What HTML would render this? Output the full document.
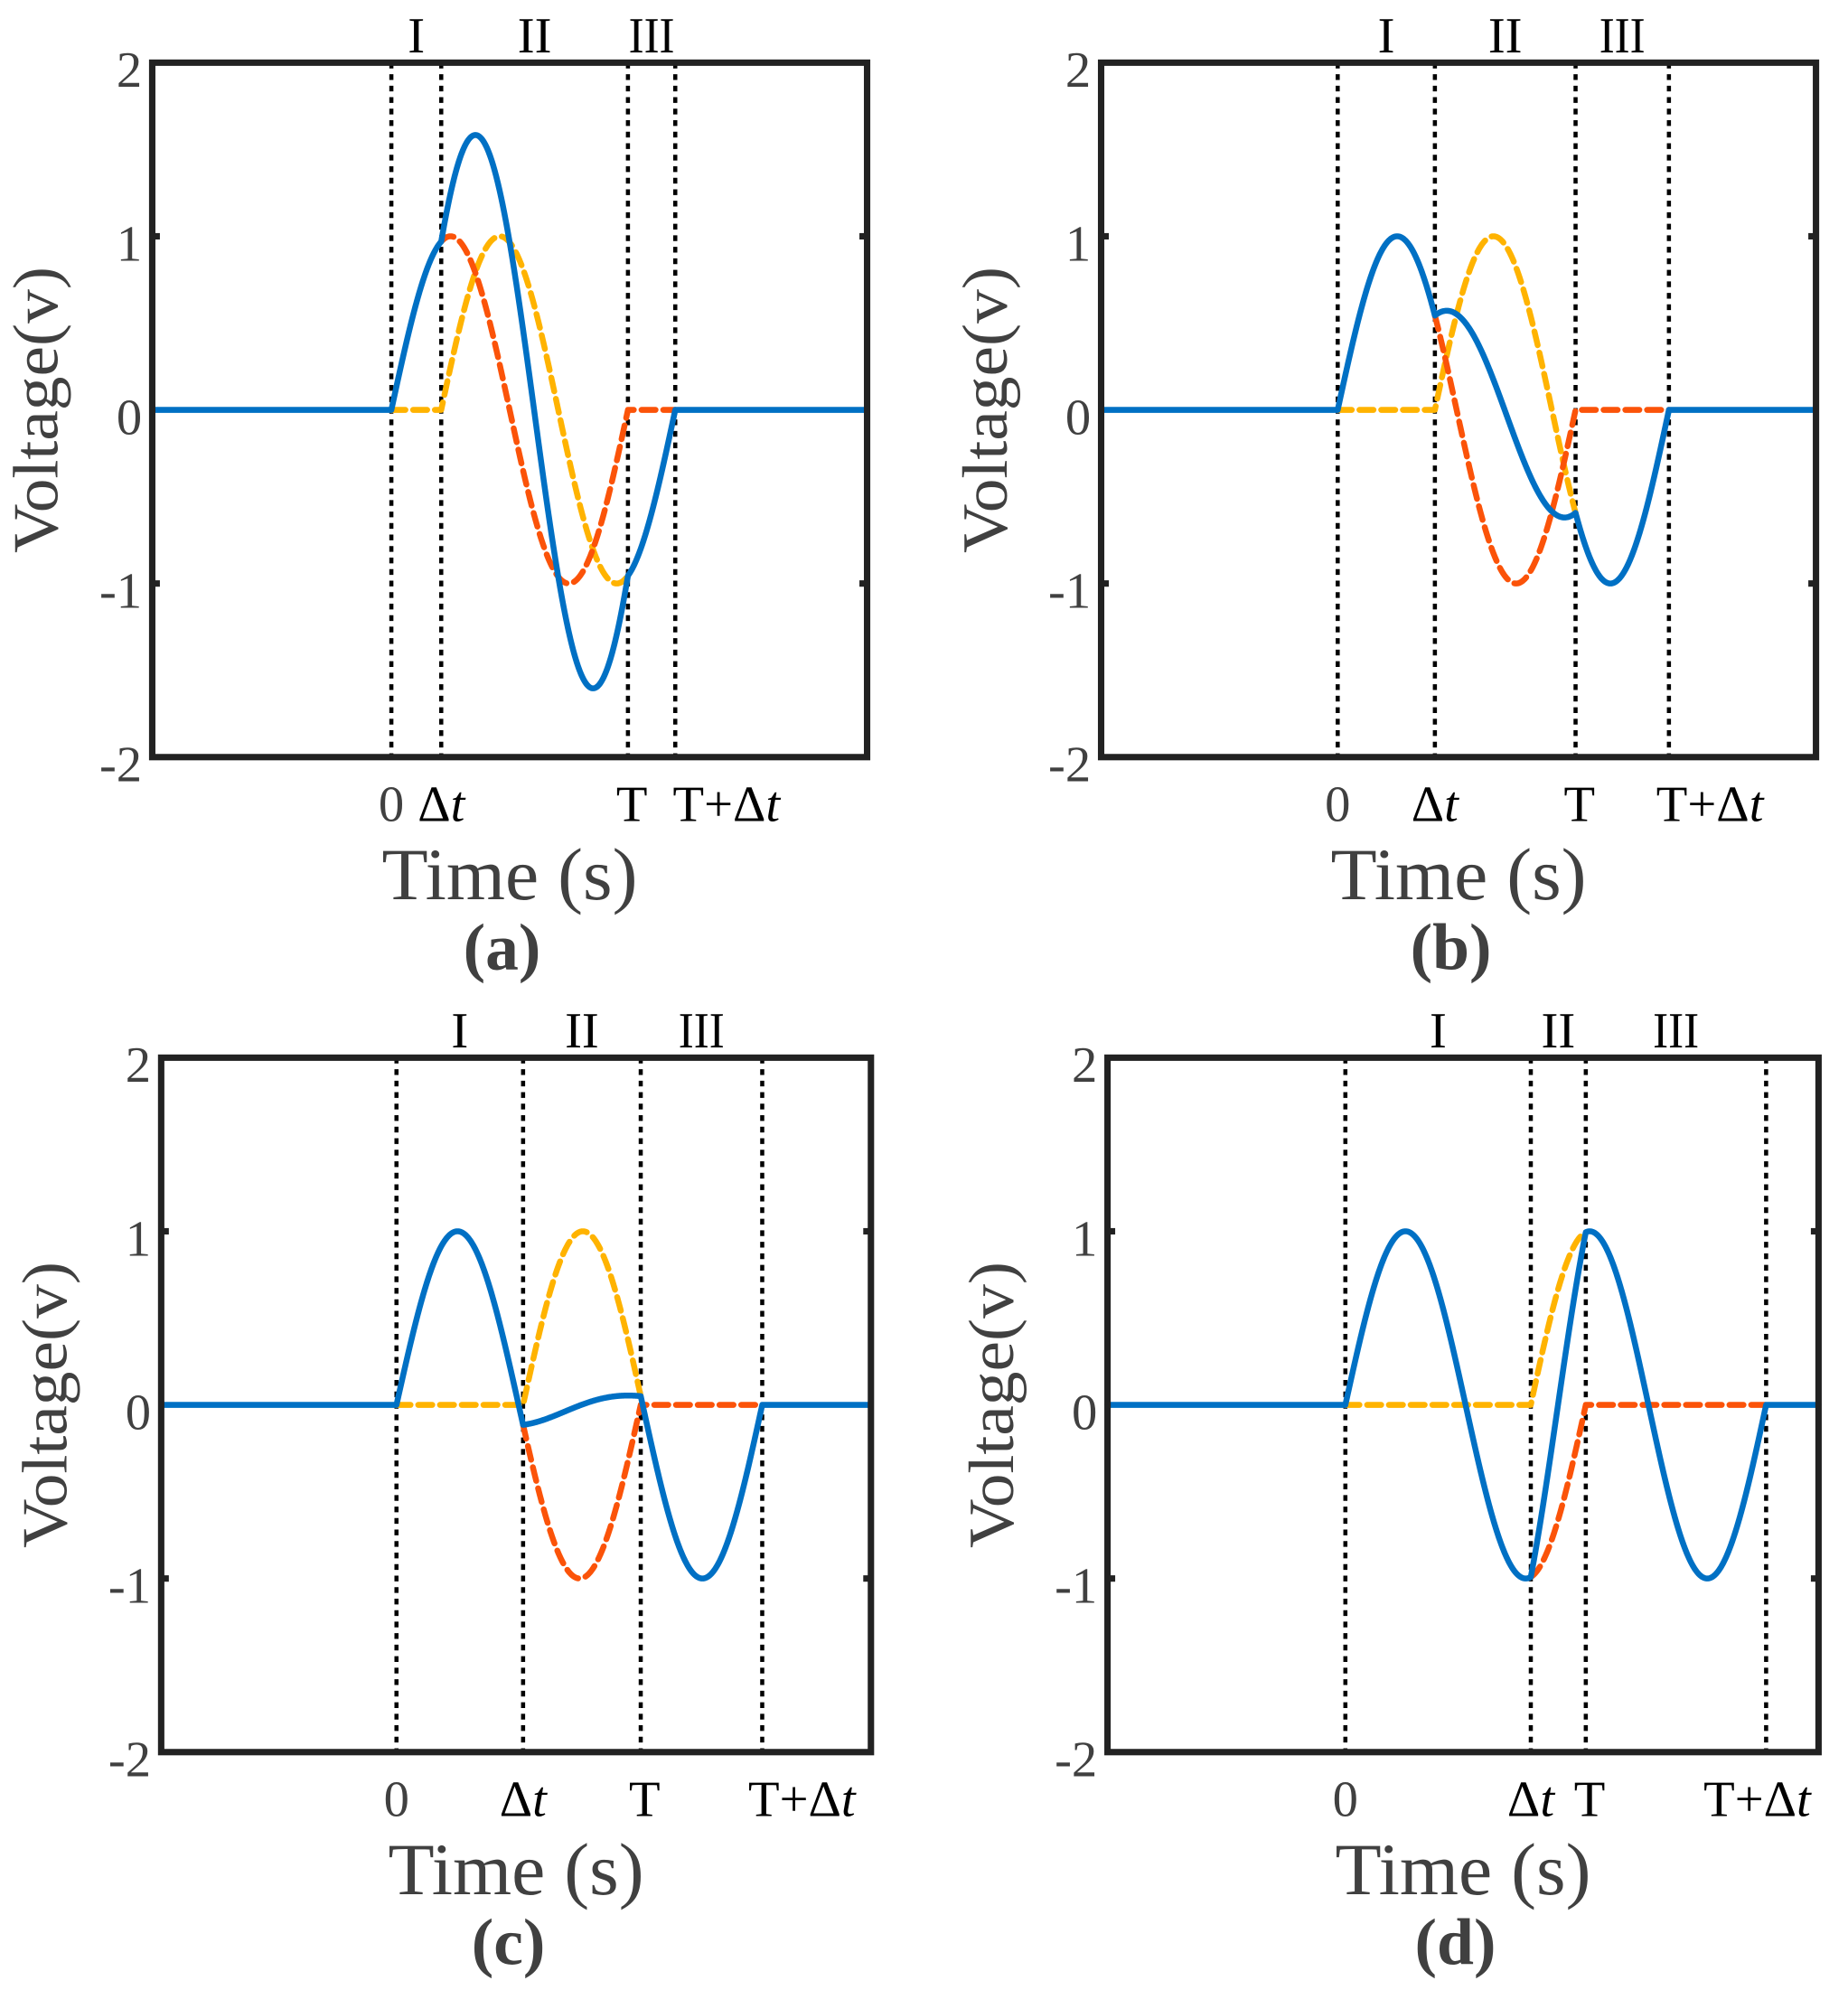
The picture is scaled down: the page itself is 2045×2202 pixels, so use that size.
<!DOCTYPE html>
<html><head><meta charset="utf-8">
<style>
html,body{margin:0;padding:0;background:#fff;}
svg{display:block;}
text{font-family:"Liberation Serif",serif;}
</style></head>
<body>
<svg id="s" xmlns="http://www.w3.org/2000/svg" width="2045" height="2202" viewBox="0 0 1445 1556">
<rect width="1445" height="1556" fill="#fff"/>
</svg>
<script>
const S=document.getElementById('s');
const NS='http://www.w3.org/2000/svg';
function el(tag,attrs,txt){const e=document.createElementNS(NS,tag);for(const k in attrs)e.setAttribute(k,attrs[k]);if(txt!==undefined)e.textContent=txt;S.appendChild(e);return e;}
const panels=[
 {L:119,R:678,T:49,B:592,x0:306,xd:345,xT:491,xTd:528,lab:'(a)',tl:568},
 {L:861,R:1420,T:49,B:592,x0:1046,xd:1122,xT:1232,xTd:1305,lab:'(b)',tl:1337},
 {L:126,R:681,T:827,B:1370,x0:310,xd:409,xT:501,xTd:596,lab:'(c)',tl:627},
 {L:866,R:1422,T:827,B:1370,x0:1052,xd:1197,xT:1240,xTd:1381,lab:'(d)',tl:1374}
];
const BLUE='#0070C4',RED='#FB5309',YEL='#FFB300';
panels.forEach(p=>{
 const H=p.B-p.T, y0=p.T+H/2, k=H/4, P=p.xT-p.x0, Py=p.xTd-p.xd;
 const Y=v=>y0-v*k;
 const r=x=>Math.sin(2*Math.PI*(x-p.x0)/P);
 const yl=x=>Math.sin(2*Math.PI*(x-p.xd)/Py);
 function path(pts,stroke,w,dash){
   let d='M'+pts.map(q=>q[0].toFixed(2)+','+q[1].toFixed(2)).join(' L');
   const a={d:d,fill:'none',stroke:stroke,'stroke-width':w,'stroke-linejoin':'round','stroke-linecap':'round'};
   if(dash)a['stroke-dasharray']=dash;
   el('path',a);
 }
 function samp(a,b,f){const pts=[];const n=Math.max(2,Math.ceil((b-a)*2));for(let i=0;i<=n;i++){const x=a+(b-a)*i/n;pts.push([x,Y(f(x))]);}return pts;}
 [p.x0,p.xd,p.xT,p.xTd].forEach(x=>el('line',{x1:x,y1:p.T,x2:x,y2:p.B,stroke:'#000','stroke-width':3.2,'stroke-dasharray':'4.5 4.5'}));
 path(samp(p.x0,p.xd,x=>0).concat(samp(p.xd,p.xT,yl)),YEL,4.6,'11 6');
 path(samp(p.xd,p.xT,r).concat(samp(p.xT,p.xTd,x=>0)),RED,4.6,'11 6');
 let pts=[[p.L,Y(0)],[p.x0,Y(0)]];
 pts=pts.concat(samp(p.x0,p.xd,r)).concat(samp(p.xd,p.xT,x=>r(x)+yl(x))).concat(samp(p.xT,p.xTd,yl));
 pts.push([p.xTd,Y(0)]);
 pts.push([p.R,Y(0)]);
 path(pts,BLUE,4.6);
 el('rect',{x:p.L,y:p.T,width:p.R-p.L,height:H,fill:'none',stroke:'#222','stroke-width':5});
 [-1,1].forEach(v=>{el('line',{x1:p.L,y1:Y(v),x2:p.L+6,y2:Y(v),stroke:'#222','stroke-width':5});el('line',{x1:p.R,y1:Y(v),x2:p.R-6,y2:Y(v),stroke:'#222','stroke-width':5});});
 [2,1,0,-1,-2].forEach(v=>el('text',{x:p.L-8,y:Y(v)+19,'font-size':40,'text-anchor':'end',fill:'#404040'},v<0?'-'+(-v):String(v)));
 el('text',{x:0,y:0,'font-size':50,'text-anchor':'middle',fill:'#404040',transform:`translate(${p.L-74},${y0}) rotate(-90)`,textLength:224,lengthAdjust:'spacingAndGlyphs'},'Voltage(v)');
 const by=p.B+50;
 el('text',{x:p.x0,y:by,'font-size':40,'text-anchor':'middle',fill:'#404040'},'0');
 const dt=(x,pre)=>{const t=el('text',{x:x,y:by,'font-size':40,'text-anchor':'middle',fill:'#000'});
   t.innerHTML=(pre||'')+'Δ<tspan font-style="italic">t</tspan>';};
 dt(p.xd);
 el('text',{x:p.xT+3,y:by,'font-size':40,'text-anchor':'middle',fill:'#000'},'T');
 dt(p.tl,'T+');
 const ry=p.T-8;
 el('text',{x:(p.x0+p.xd)/2,y:ry,'font-size':40,'text-anchor':'middle',fill:'#000'},'I');
 el('text',{x:(p.xd+p.xT)/2,y:ry,'font-size':40,'text-anchor':'middle',fill:'#000'},'II');
 el('text',{x:(p.xT+p.xTd)/2,y:ry,'font-size':40,'text-anchor':'middle',fill:'#000',textLength:36,lengthAdjust:'spacingAndGlyphs'},'III');
 const cx=(p.L+p.R)/2;
 el('text',{x:cx,y:p.B+111,'font-size':58,'text-anchor':'middle',fill:'#404040',textLength:200,lengthAdjust:'spacingAndGlyphs'},'Time (s)');
 el('text',{x:cx-6,y:p.B+166,'font-size':52,'text-anchor':'middle',fill:'#404040','font-weight':'bold'},p.lab);
});
</script>
</body></html>
